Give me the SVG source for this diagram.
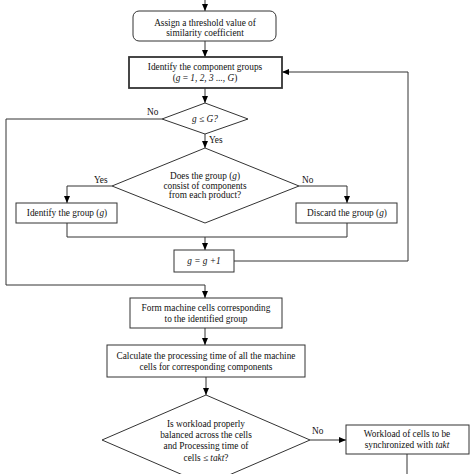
<svg xmlns="http://www.w3.org/2000/svg" width="474" height="474" viewBox="0 0 474 474">
<defs>
<marker id="ah" markerWidth="8" markerHeight="8" refX="7" refY="4" orient="auto" markerUnits="userSpaceOnUse">
<path d="M0,1 L7,4 L0,7 Z" fill="#000"/>
</marker>
<style>
.b{fill:#fff;stroke:#333;stroke-width:1}
.t{font-family:"Liberation Serif","Times New Roman",serif;font-size:9.3px;fill:#111;text-anchor:middle}
.l{font-family:"Liberation Serif","Times New Roman",serif;font-size:9.3px;fill:#111}
.c{fill:none;stroke:#333;stroke-width:1}
.a{marker-end:url(#ah)}
</style>
</defs>
<rect width="474" height="474" fill="#fff"/>
<g id="connectors">
<path class="c a" d="M205,0 V11"/>
<path class="c a" d="M205,41 V57"/>
<path class="c a" d="M205,88 V103"/>
<path class="c a" d="M205,134 V148"/>
<path class="c" d="M162,119 H6 V285 H205"/>
<path class="c a" d="M205,285 V298"/>
<path class="c a" d="M112,186 H67 V203"/>
<path class="c a" d="M299,186 H347 V203"/>
<path class="c" d="M67,223 V237 H347 V223"/>
<path class="c a" d="M205,237 V250"/>
<path class="c" d="M234,261 H408 V72"/>
<path class="c a" d="M408,72 H282"/>
<path class="c a" d="M205,328 V345"/>
<path class="c a" d="M206,377 V395"/>
<path class="c a" d="M310,440 H346"/>
<path class="c" d="M407,454 V474"/>
<text class="l" x="147" y="115">No</text>
<text class="l" x="209" y="143">Yes</text>
<text class="l" x="94" y="183">Yes</text>
<text class="l" x="302" y="183">No</text>
<text class="l" x="312" y="434">No</text>
</g>
<g id="n1">
<rect class="b" x="133" y="11" width="143" height="30" rx="6"/>
<text class="t" x="205" y="26">Assign a threshold value of</text>
<text class="t" x="205" y="36">similarity coefficient</text>
</g>
<g id="n2">
<rect class="b" x="129" y="57" width="153" height="31" style="stroke-width:1.8"/>
<text class="t" x="205" y="70">Identify the component groups</text>
<text class="t" x="205" y="81">(<tspan font-style="italic">g</tspan> = <tspan font-style="italic">1, 2, 3 ..., G</tspan>)</text>
</g>
<g id="n3">
<polygon class="b" points="205,103 248,119 205,134 162,119"/>
<text class="t" x="205" y="122" font-style="italic">g ≤ G?</text>
</g>
<g id="n4">
<polygon class="b" points="205,148 299,186 205,223 112,186"/>
<text class="t" x="205" y="179">Does the group (<tspan font-style="italic">g</tspan>)</text>
<text class="t" x="205" y="189">consist of components</text>
<text class="t" x="205" y="198">from each product?</text>
</g>
<g id="n5">
<rect class="b" x="16" y="203" width="101" height="20"/>
<text class="t" x="67" y="216">Identify the group (<tspan font-style="italic">g</tspan>)</text>
</g>
<g id="n6">
<rect class="b" x="296" y="203" width="101" height="20"/>
<text class="t" x="347" y="216">Discard the group (<tspan font-style="italic">g</tspan>)</text>
</g>
<g id="n7">
<rect class="b" x="174" y="250" width="60" height="22"/>
<text class="t" x="204" y="264" font-style="italic">g = g +1</text>
</g>
<g id="n8">
<rect class="b" x="130" y="298" width="152" height="30"/>
<text class="t" x="206" y="311">Form machine cells corresponding</text>
<text class="t" x="206" y="322">to the identified group</text>
</g>
<g id="n9">
<rect class="b" x="107" y="345" width="198" height="32"/>
<text class="t" x="206" y="359">Calculate the processing time of all the machine</text>
<text class="t" x="206" y="370">cells for corresponding components</text>
</g>
<g id="n10">
<polygon class="b" points="206,395 310,440 206,485 102,440"/>
<text class="t" x="206" y="427">Is workload properly</text>
<text class="t" x="206" y="438">balanced across the cells</text>
<text class="t" x="206" y="449">and Processing time of</text>
<text class="t" x="206" y="461">cells ≤ <tspan font-style="italic">takt</tspan>?</text>
</g>
<g id="n11">
<rect class="b" x="346" y="425" width="123" height="29"/>
<text class="t" x="407" y="437">Workload of cells to be</text>
<text class="t" x="407" y="448">synchronized with <tspan font-style="italic">takt</tspan></text>
</g>
</svg>
